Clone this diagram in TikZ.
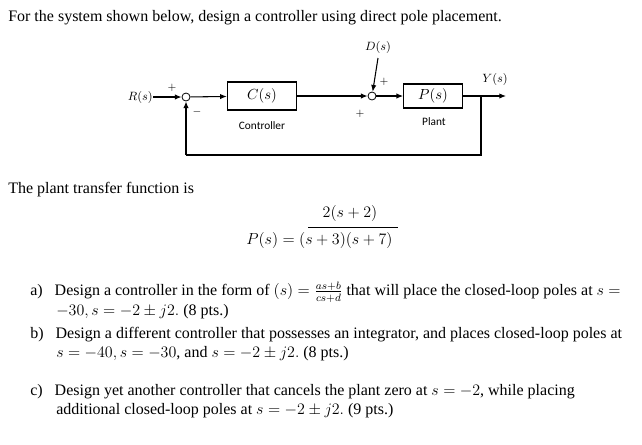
\documentclass[tikz,border=0pt]{standalone}
\usepackage{fontspec}
\setmainfont{Liberation Serif}
\newfontfamily\blk{Carlito}
\usetikzlibrary{arrows.meta}
\begin{document}
\begin{tikzpicture}[x=0.75pt,y=-0.75pt,
  blockbox/.style={draw,line width=0.8pt,minimum width=52pt,minimum height=21pt,inner sep=0},
  sumj/.style={draw,circle,line width=0.6pt,minimum size=6pt,inner sep=0},
  sig/.style={line width=0.8pt,-{Latex[length=5pt,width=4pt]}},
  wire/.style={line width=0.8pt},
  txt/.style={anchor=west,font=\fontsize{12pt}{14pt}\selectfont,inner sep=0},
  lbl/.style={font=\blk\fontsize{8.5pt}{10pt}\selectfont,inner sep=0},
  mlbl/.style={font=\fontsize{9.5pt}{10pt}\selectfont,inner sep=0},
  sgn/.style={font=\fontsize{8pt}{9pt}\selectfont,inner sep=0}]
\useasboundingbox (0,0) rectangle (642,444);
\node[txt] (title) at (8,18) {For the system shown below, design a controller using direct pole placement.};
% block diagram
\coordinate (rin) at (153,97);
\node[mlbl,anchor=east] (R) at (rin) {$R(s)$};
\node[sumj] (s1) at (186,97) {};
\node[blockbox] (C) at (262,96) {\fontsize{11pt}{12pt}\selectfont$C(s)$};
\node[lbl] (cl) at (262,126) {Controller};
\node[sumj] (s2) at (372,96) {};
\node[mlbl] (D) at (378,47) {$D(s)$};
\node[blockbox,minimum width=44pt,minimum height=18pt] (P) at (433,96) {\fontsize{11pt}{12pt}\selectfont$P(s)$};
\node[lbl] (pl) at (434,122) {Plant};
\coordinate (br) at (481,96);
\coordinate (yout) at (506,96);
\node[mlbl] (Y) at (495,79) {$Y(s)$};
\coordinate (fb1) at (481,155);
\coordinate (fb2) at (186,155);
\draw[sig] (rin) -- (s1);
\draw[sig] (s1) -- (C);
\draw[sig] (C) -- (s2);
\draw[sig] (D.south |- 0,58) -- (s2);
\draw[sig] (s2) -- (P);
\draw[sig] (P) -- (yout);
\draw[wire] (br) -- (fb1) -- (fb2);
\draw[sig] (fb2) -- (s1);
\node[sgn] at (172,88) {$+$};
\node[sgn] at (197,112) {$-$};
\node[sgn] at (360,114) {$+$};
\node[sgn] at (384,82) {$+$};
% plant TF
\node[txt] (pt) at (8,190) {The plant transfer function is};
\node[inner sep=0,font=\fontsize{12.5pt}{14pt}\selectfont] (num) at (350,213) {$2(s+2)$};
\draw[line width=0.5pt] (308,227) -- (398,227);
\node[inner sep=0,font=\fontsize{12.5pt}{14pt}\selectfont,anchor=west] (den) at (246,240) {$P(s)=(s+3)(s+7)$};
% questions
\node[txt] (a1) at (30,292) {a)\hspace{9pt}Design a controller in the form of $(s)=\frac{as+b}{cs+d}$ that will place the closed-loop poles at $s=$};
\node[txt] (a2) at (56,312) {$-30, s=-2\pm j2.$ (8 pts.)};
\node[txt] (b1) at (30,335) {b)\hspace{9pt}Design a different controller that possesses an integrator, and places closed-loop poles at};
\node[txt] (b2) at (56,354) {$s=-40, s=-30$, and $s=-2\pm j2.$ (8 pts.)};
\node[txt] (c1) at (30,392) {c)\hspace{9pt}Design yet another controller that cancels the plant zero at $s=-2$, while placing};
\node[txt] (c2) at (56,411) {additional closed-loop poles at $s=-2\pm j2.$ (9 pts.)};
\end{tikzpicture}
\end{document}
